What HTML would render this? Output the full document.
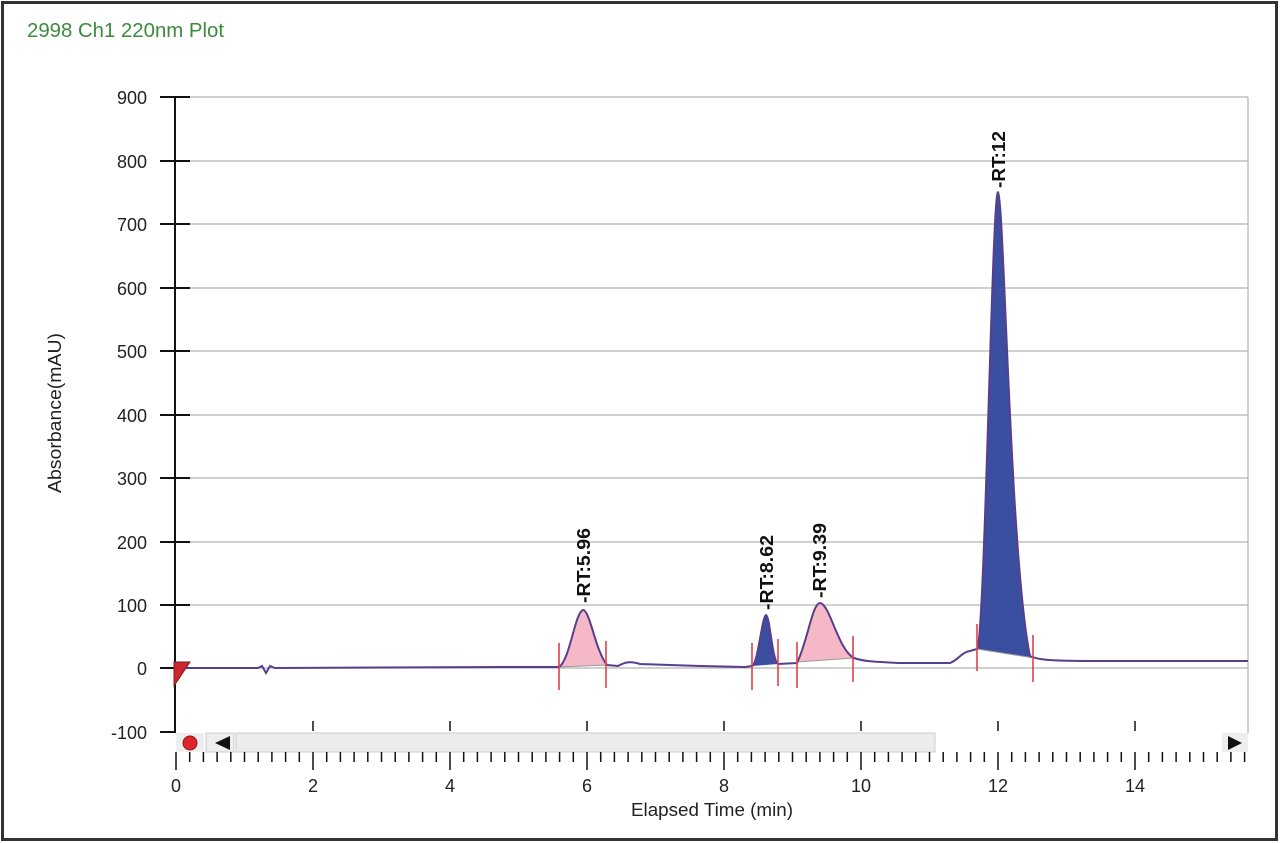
<!DOCTYPE html>
<html><head><meta charset="utf-8"><style>
html,body{margin:0;padding:0;background:#fff;}
svg{display:block;font-family:"Liberation Sans",Arial,sans-serif;}
</style></head><body>
<svg width="1280" height="843" viewBox="0 0 1280 843" xmlns="http://www.w3.org/2000/svg">
<rect x="2.5" y="2.5" width="1274" height="837" fill="#fff" stroke="#333" stroke-width="3"/>
<text x="27" y="37" font-size="20" fill="#3d8a3d" textLength="197" lengthAdjust="spacingAndGlyphs">2998 Ch1 220nm Plot</text>
<g stroke="#b5b5b5" stroke-width="1.2">
<line x1="190" y1="97" x2="1248" y2="97"/>
<line x1="190" y1="161" x2="1248" y2="161"/>
<line x1="190" y1="224" x2="1248" y2="224"/>
<line x1="190" y1="288" x2="1248" y2="288"/>
<line x1="190" y1="351" x2="1248" y2="351"/>
<line x1="190" y1="415" x2="1248" y2="415"/>
<line x1="190" y1="478" x2="1248" y2="478"/>
<line x1="190" y1="542" x2="1248" y2="542"/>
<line x1="190" y1="605" x2="1248" y2="605"/>
<line x1="190" y1="668" x2="1248" y2="668"/>
<line x1="1248" y1="97" x2="1248" y2="733"/>
</g>
<g stroke="#111" stroke-width="2">
<line x1="175" y1="97" x2="175" y2="733"/>
<line x1="160" y1="97" x2="190" y2="97"/>
<line x1="160" y1="161" x2="190" y2="161"/>
<line x1="160" y1="224" x2="190" y2="224"/>
<line x1="160" y1="288" x2="190" y2="288"/>
<line x1="160" y1="351" x2="190" y2="351"/>
<line x1="160" y1="415" x2="190" y2="415"/>
<line x1="160" y1="478" x2="190" y2="478"/>
<line x1="160" y1="542" x2="190" y2="542"/>
<line x1="160" y1="605" x2="190" y2="605"/>
<line x1="160" y1="668" x2="190" y2="668"/>
<line x1="160" y1="732" x2="176" y2="732"/>
</g>
<g font-size="18" fill="#222" text-anchor="end">
<text x="147" y="104">900</text><text x="147" y="168">800</text><text x="147" y="231">700</text>
<text x="147" y="295">600</text><text x="147" y="358">500</text><text x="147" y="422">400</text>
<text x="147" y="485">300</text><text x="147" y="549">200</text><text x="147" y="612">100</text>
<text x="147" y="675">0</text><text x="147" y="739">-100</text>
</g>
<text transform="translate(61,413) rotate(-90)" font-size="18" fill="#222" text-anchor="middle" textLength="160" lengthAdjust="spacingAndGlyphs">Absorbance(mAU)</text>
<path d="M559,667 C570,660 575,612 583,610 C590,610 595,650 607,665 Z" fill="#f4b8c6"/>
<path d="M752,666 C758,664 762,616 766,615 C770,616 772,660 778,664 Z" fill="#3a4f9f"/>
<path d="M797,662 C808,640 812,604 820,603 C830,604 838,650 854,658 Z" fill="#f4b8c6"/>
<path d="M977,649 C985,640 992,192 998,192 C1004,195 1010,560 1030,656 L1034,658 Z" fill="#3a4f9f"/>
<g stroke="#999" stroke-width="1" fill="none">
<line x1="559" y1="667" x2="607" y2="665"/><line x1="797" y1="662" x2="854" y2="658"/>
<line x1="977" y1="649" x2="1034" y2="658"/>
</g>
<path d="M176,668 L258,668 L262,666 L266,673 L270,666 L275,668 L500,667 L540,667 L559,667 C570,660 575,612 583,610 C590,610 595,650 607,665 L618,666 C625,662 630,661 640,664 L700,666 L745,667 L752,666 C758,664 762,616 766,615 C770,616 772,660 778,664 L797,663 C808,640 812,604 820,603 C830,604 838,650 854,658 C865,662 880,662 900,663 L950,663 C958,660 962,652 970,651 L977,649 C985,640 992,192 998,192 C1004,195 1010,560 1030,656 C1038,660 1050,661 1100,661 L1248,661" fill="none" stroke="#5a3e8e" stroke-width="2"/>
<g stroke="#e0424a" stroke-width="1.6">
<line x1="559" y1="643" x2="559" y2="690"/><line x1="606" y1="641" x2="606" y2="688"/>
<line x1="752" y1="643" x2="752" y2="690"/><line x1="778" y1="639" x2="778" y2="686"/>
<line x1="797" y1="642" x2="797" y2="688"/><line x1="853" y1="636" x2="853" y2="682"/>
<line x1="977" y1="624" x2="977" y2="671"/><line x1="1033" y1="635" x2="1033" y2="682"/>
</g>
<polygon points="174,662 190,662 174,686" fill="#c8282e" stroke="#8a1a1a" stroke-width="1"/>
<g font-size="18" font-weight="bold" fill="#111">
<text transform="translate(590,603) rotate(-90)" textLength="75" lengthAdjust="spacingAndGlyphs">-RT:5.96</text>
<text transform="translate(773,610) rotate(-90)" textLength="75" lengthAdjust="spacingAndGlyphs">-RT:8.62</text>
<text transform="translate(826,598) rotate(-90)" textLength="75" lengthAdjust="spacingAndGlyphs">-RT:9.39</text>
<text transform="translate(1005,188) rotate(-90)" textLength="57" lengthAdjust="spacingAndGlyphs">-RT:12</text>
</g>
<g stroke="#111" stroke-width="1.5">
<line x1="313" y1="721" x2="313" y2="731"/><line x1="450" y1="721" x2="450" y2="731"/>
<line x1="587" y1="721" x2="587" y2="731"/><line x1="724" y1="721" x2="724" y2="731"/>
<line x1="861" y1="721" x2="861" y2="731"/><line x1="998" y1="721" x2="998" y2="731"/>
<line x1="1135" y1="721" x2="1135" y2="731"/>
</g>
<rect x="176" y="733" width="1072" height="19" fill="#fff"/>
<rect x="236" y="733" width="699" height="19" fill="#ececec" stroke="#ccc"/>
<rect x="176" y="733" width="28" height="19" fill="#eee"/>
<rect x="206" y="733" width="28" height="19" fill="#eee" stroke="#ccc"/>
<rect x="1222" y="733" width="26" height="19" fill="#eee"/>
<circle cx="190" cy="743" r="7" fill="#e0242c" stroke="#8a1a1a"/>
<polygon points="215,743 230,736 230,750" fill="#111"/>
<polygon points="1242,743 1228,736 1228,750" fill="#111"/>
<g stroke="#111" stroke-width="1.5">
<path d="M176,752v18 M189.7,752v10 M203.4,752v10 M217.1,752v10 M230.8,752v10 M244.5,752v10 M258.2,752v10 M271.9,752v10 M285.6,752v10 M299.3,752v10 M313,752v18 M326.7,752v10 M340.4,752v10 M354.1,752v10 M367.8,752v10 M381.5,752v10 M395.2,752v10 M408.9,752v10 M422.6,752v10 M436.3,752v10 M450,752v18 M463.7,752v10 M477.4,752v10 M491.1,752v10 M504.8,752v10 M518.5,752v10 M532.2,752v10 M545.9,752v10 M559.6,752v10 M573.3,752v10 M587,752v18 M600.7,752v10 M614.4,752v10 M628.1,752v10 M641.8,752v10 M655.5,752v10 M669.2,752v10 M682.9,752v10 M696.6,752v10 M710.3,752v10 M724,752v18 M737.7,752v10 M751.4,752v10 M765.1,752v10 M778.8,752v10 M792.5,752v10 M806.2,752v10 M819.9,752v10 M833.6,752v10 M847.3,752v10 M861,752v18 M874.7,752v10 M888.4,752v10 M902.1,752v10 M915.8,752v10 M929.5,752v10 M943.2,752v10 M956.9,752v10 M970.6,752v10 M984.3,752v10 M998,752v18 M1011.7,752v10 M1025.4,752v10 M1039.1,752v10 M1052.8,752v10 M1066.5,752v10 M1080.2,752v10 M1093.9,752v10 M1107.6,752v10 M1121.3,752v10 M1135,752v18 M1148.7,752v10 M1162.4,752v10 M1176.1,752v10 M1189.8,752v10 M1203.5,752v10 M1217.2,752v10 M1230.9,752v10 M1244.6,752v10"/>
</g>
<g font-size="18" fill="#222" text-anchor="middle">
<text x="176" y="792">0</text><text x="313" y="792">2</text><text x="450" y="792">4</text>
<text x="587" y="792">6</text><text x="724" y="792">8</text><text x="861" y="792">10</text>
<text x="998" y="792">12</text><text x="1135" y="792">14</text>
<text x="712" y="816" textLength="162" lengthAdjust="spacingAndGlyphs">Elapsed Time (min)</text>
</g>
</svg>
</body></html>
